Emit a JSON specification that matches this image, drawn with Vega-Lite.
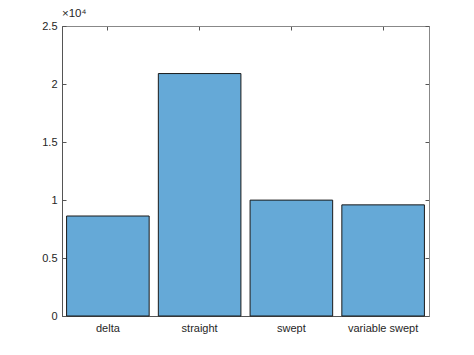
{
  "$schema": "https://vega.github.io/schema/vega-lite/v6.json",
  "width": 367,
  "height": 290,
  "autosize": "none",
  "padding": {"left": 62, "top": 26, "right": 45, "bottom": 39},
  "background": "white",
  "config": {
    "font": "Liberation Sans",
    "view": {"stroke": "#777", "strokeWidth": 1},
    "axis": {"labelFont": "Liberation Sans", "labelColor": "#262626", "labelFontSize": 11, "domainColor": "#555", "tickColor": "#555", "grid": false, "title": null}
  },
  "title": {"text": "×10⁴", "anchor": "start", "frame": "group", "fontSize": 11.5, "fontWeight": "normal", "color": "#262626", "offset": 1, "font": "Liberation Sans"},
  "data": {"values": [
    {"type": "delta", "count": 8620},
    {"type": "straight", "count": 20900},
    {"type": "swept", "count": 9990},
    {"type": "variable swept", "count": 9580}
  ]},
  "layer": [
    {
      "mark": {"type": "bar", "fill": "#65a9d7", "stroke": "#1a1a1a", "strokeWidth": 1},
      "encoding": {
        "x": {"field": "type", "type": "nominal", "sort": null,
              "scale": {"paddingInner": 0.1, "paddingOuter": 0.05},
              "axis": {"orient": "bottom", "labelAngle": 0, "tickSize": -4, "labelPadding": 10, "domainColor": "#555"}},
        "y": {"field": "count", "type": "quantitative",
              "scale": {"domain": [0, 25000], "nice": false},
              "axis": {"orient": "left", "values": [0, 5000, 10000, 15000, 20000, 25000], "labelExpr": "format(datum.value/10000, '')", "tickSize": -4, "labelPadding": 9}}
      }
    },
    {
      "mark": {"type": "bar", "opacity": 0},
      "encoding": {
        "x": {"field": "type", "type": "nominal", "sort": null,
              "scale": {"paddingInner": 0.1, "paddingOuter": 0.05},
              "axis": {"orient": "top", "labels": false, "tickSize": -4, "domainColor": "#888"}},
        "y": {"field": "count", "type": "quantitative",
              "scale": {"domain": [0, 25000], "nice": false},
              "axis": {"orient": "right", "labels": false, "values": [0, 5000, 10000, 15000, 20000, 25000], "tickSize": -4, "domainColor": "#888"}}
      }
    }
  ],
  "resolve": {"axis": {"x": "independent", "y": "independent"}}
}
